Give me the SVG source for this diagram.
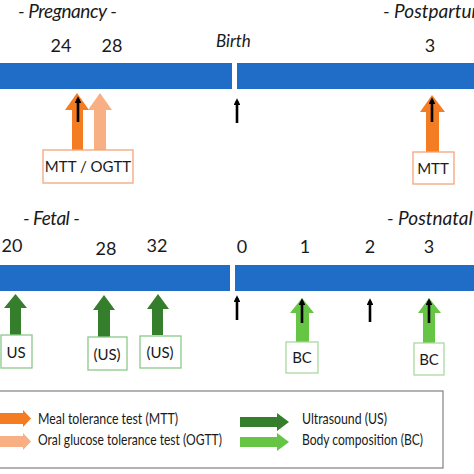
<svg xmlns="http://www.w3.org/2000/svg" width="474" height="474" viewBox="0 0 474 474">
<defs>
<marker id="ah" viewBox="0 0 10 10" refX="6" refY="5" markerWidth="2.6" markerHeight="2.6" orient="auto" markerUnits="strokeWidth">
<path d="M0,0 L10,5 L0,10 Z" fill="#000"/>
</marker>
<style>
text{font-family:Lato,"Open Sans","Liberation Sans",sans-serif;fill:#1a1a1a}
.hd{font-size:19px;font-style:italic}
.num{font-size:18px;text-anchor:middle}
.bx{font-size:15px;text-anchor:middle}
.lg{font-size:15px}
.bar{fill:#1F6DC6}
.ob{fill:#fff;stroke:#F4A57A;stroke-width:1.3}
.gb{fill:#fff;stroke:#8CC98A;stroke-width:1.3}
.lb{fill:#fff;stroke:#A9D9A0;stroke-width:1.3}
.o1{fill:#F47C22}
.o2{fill:#F9AF84}
.g1{fill:#357E2B}
.g2{fill:#66C545}
.blk{stroke:#000;stroke-width:2.6;fill:none}
</style>
</defs>
<rect width="474" height="474" fill="#fff"/>

<g id="timeline-pregnancy">
<rect class="bar" x="0" y="63" width="232" height="26"/>
<rect class="bar" x="237" y="63" width="237" height="26"/>
<text class="hd" x="18" y="18" textLength="99">- Pregnancy -</text>
<text class="hd" x="383" y="18">- Postpartum</text>
<text class="hd" x="216" y="47" style="font-size:17px">Birth</text>
<text class="num" x="61" y="52">24</text>
<text class="num" x="112" y="52">28</text>
<text class="num" x="430" y="52">3</text>
</g>

<g id="timeline-fetal">
<rect class="bar" x="0" y="265" width="230" height="26"/>
<rect class="bar" x="235" y="265" width="239" height="26"/>
<text class="hd" x="23" y="225" textLength="57">- Fetal -</text>
<text class="hd" x="387" y="225">- Postnatal</text>
<text class="num" x="12" y="252">20</text>
<text class="num" x="106" y="255">28</text>
<text class="num" x="157" y="252">32</text>
<text class="num" x="242" y="253">0</text>
<text class="num" x="305" y="253">1</text>
<text class="num" x="370" y="253">2</text>
<text class="num" x="429" y="253">3</text>
</g>

<g id="node-mtt-ogtt">
<path class="o2" d="M94,150 L94,110 L88,110 L100,93 L112,110 L106,110 L106,150 Z"/>
<path class="o1" d="M72,150 L72,110 L65,110 L77,93 L89,110 L83,110 L83,150 Z"/>
<rect class="ob" x="43" y="150" width="90" height="33"/>
<text class="bx" x="88" y="172">MTT / OGTT</text>
</g>

<g id="node-mtt-postpartum">
<path class="o1" d="M426,152 L426,112 L420,112 L432,95 L445,112 L439,112 L439,152 Z"/>
<rect class="ob" x="413" y="152" width="41" height="32"/>
<text class="bx" x="433" y="174">MTT</text>
</g>

<g id="node-us-20">
<path class="g1" d="M10,335 L10,308 L4,308 L15.5,294 L27,308 L21,308 L21,335 Z"/>
<rect class="gb" x="1" y="335" width="31" height="33"/>
<text class="bx" x="16" y="358">US</text>
</g>
<g id="node-us-28">
<path class="g1" d="M98,337 L98,310 L93,310 L104,295 L115,310 L110,310 L110,337 Z"/>
<rect class="gb" x="88" y="337" width="39" height="33"/>
<text class="bx" x="107" y="360">(US)</text>
</g>
<g id="node-us-32">
<path class="g1" d="M152,335 L152,309 L147,309 L158,294 L169,309 L163,309 L163,335 Z"/>
<rect class="gb" x="140" y="336" width="41" height="32"/>
<text class="bx" x="160" y="358">(US)</text>
</g>
<g id="node-bc-1">
<path class="g2" d="M296,342 L296,313 L290,313 L302,298 L314,313 L309,313 L309,342 Z"/>
<rect class="lb" x="286" y="342" width="32" height="31"/>
<text class="bx" x="302" y="363">BC</text>
</g>
<g id="node-bc-3">
<path class="g2" d="M423,343 L423,313 L418,313 L429,298 L441,313 L435,313 L435,343 Z"/>
<rect class="lb" x="414" y="343" width="30" height="32"/>
<text class="bx" x="429" y="365">BC</text>
</g>

<g id="connectors">
<line class="blk" x1="78" y1="122" x2="78" y2="99" marker-end="url(#ah)"/>
<line class="blk" x1="237" y1="123" x2="237" y2="101" marker-end="url(#ah)"/>
<line class="blk" x1="432" y1="122" x2="432" y2="100" marker-end="url(#ah)"/>
<line class="blk" x1="237" y1="320" x2="237" y2="298" marker-end="url(#ah)"/>
<line class="blk" x1="302" y1="323" x2="302" y2="301" marker-end="url(#ah)"/>
<line class="blk" x1="370" y1="322" x2="370" y2="301" marker-end="url(#ah)"/>
<line class="blk" x1="429" y1="323" x2="429" y2="301" marker-end="url(#ah)"/>
</g>

<g id="legend">
<rect x="-2" y="391" width="445" height="77" fill="#fff" stroke="#808080" stroke-width="1.2"/>
<path class="o1" d="M-2,413 L23,413 L23,410 L31,418.5 L23,427 L23,424 L-2,424 Z"/>
<path class="o2" d="M-2,436 L23,436 L23,433 L31,441.5 L23,450 L23,447 L-2,447 Z"/>
<path class="g1" d="M240,417 L277,417 L277,413 L289,422 L277,431 L277,427 L240,427 Z"/>
<path class="g2" d="M240,437 L277,437 L277,433 L289,442 L277,451 L277,447 L240,447 Z"/>
<text class="lg" x="38" y="424" textLength="140" lengthAdjust="spacingAndGlyphs">Meal tolerance test (MTT)</text>
<text class="lg" x="38" y="445" textLength="184" lengthAdjust="spacingAndGlyphs">Oral glucose tolerance test (OGTT)</text>
<text class="lg" x="302" y="424" textLength="85" lengthAdjust="spacingAndGlyphs">Ultrasound (US)</text>
<text class="lg" x="302" y="445" textLength="121" lengthAdjust="spacingAndGlyphs">Body composition (BC)</text>
</g>
</svg>
